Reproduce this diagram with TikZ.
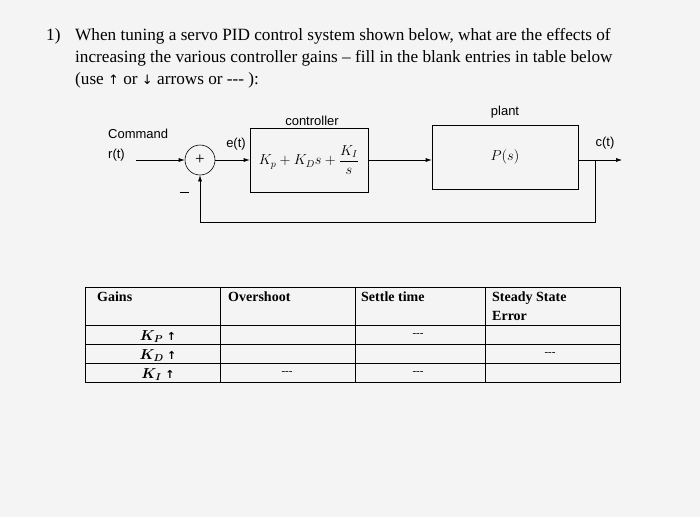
\documentclass[tikz,border=0pt]{standalone}
\usepackage{amsmath}
\usepackage{fontspec}
\setmainfont{Liberation Serif}
\newfontfamily\labfont{Liberation Sans}
\newfontfamily\symfont{DejaVu Sans}
\usetikzlibrary{arrows.meta}
\begin{document}
\begin{tikzpicture}[x=1pt,y=-1pt,
  lab/.style={font=\labfont\fontsize{13}{13}\selectfont,inner sep=0pt},
  ttl/.style={font=\fontsize{17.2}{17.2}\selectfont,inner sep=0pt,anchor=base west},
  blk/.style={draw,line width=0.6pt,minimum width=118pt,minimum height=64pt,font=\fontsize{14}{14}\selectfont},
  cell/.style={font=\bfseries\fontsize{14}{14}\selectfont,inner sep=0pt,anchor=base west},
  dsh/.style={font=\fontsize{11}{11}\selectfont,inner sep=0pt},
  arr/.style={-{Latex[length=6pt,width=4pt]},line width=0.6pt}]
\fill[gray!9] (0,0) rectangle (700,517);
\useasboundingbox (0,0) rectangle (700,517);
% title
\node[ttl] (n1) at (46,40) {1)};
\node[ttl] (t1) at (75,40) {When tuning a servo PID control system shown below, what are the effects of};
\node[ttl] (t2) at (75,62) {increasing the various controller gains -- fill in the blank entries in table below};
\node[ttl] (t3) at (75,84) {(use {\symfont\fontsize{13}{13}\selectfont↑} or {\symfont\fontsize{13}{13}\selectfont↓} arrows or -{}-{}- ):};
% block diagram
\node[lab,anchor=west] (cmd) at (108,134) {Command};
\node[lab,anchor=west] (rt) at (108,155) {r(t)};
\coordinate (in) at (136,160);
\node[draw,circle,minimum size=30pt,inner sep=0pt,line width=0.6pt,font=\fontsize{17}{17}\selectfont] (sum) at (200,160) {+};
\node[lab] (et) at (236,144) {e(t)};
\node[blk] (ctl) at (309,160) {$K_p + K_D s + \dfrac{K_I}{s}$};
\node[lab] (ctll) at (312,121) {controller};
\node[blk,minimum width=146pt,minimum height=64pt] (pl) at (505,157) {$P(s)$};
\node[lab] (pll) at (505,112) {plant};
\node[lab] (ct) at (605,143) {c(t)};
\coordinate (out) at (622,160);
\coordinate (tap) at (595,160);
\coordinate (fb1) at (595,222);
\coordinate (fb2) at (200,222);
\node[inner sep=0pt] (minus) at (184,192) {\rule{9pt}{0.7pt}};
\draw[arr] (in) -- (sum.west);
\draw[arr] (sum.east) -- (ctl.west);
\draw[arr] (ctl.east) -- (pl.west |- ctl.east);
\draw[arr] (pl.east |- tap) -- (out);
\draw[arr] (tap) -- (fb1) -- (fb2) -- (sum.south);
% table
\draw[line width=0.5pt] (85,287) rectangle (620,382);
\foreach \x in {220,355,485} \draw[line width=0.5pt] (\x,287) -- (\x,382);
\foreach \y in {325,344,363} \draw[line width=0.5pt] (85,\y) -- (620,\y);
\node[cell] (g) at (97,301) {Gains};
\node[cell] (o) at (228,301) {Overshoot};
\node[cell] (s) at (361,301) {Settle time};
\node[cell] (e1) at (492,301) {Steady State};
\node[cell] (e2) at (492,320) {Error};
\node[cell,anchor=base] (kp) at (158,340) {$\boldsymbol{K_P}$ {\symfont\fontsize{11}{11}\selectfont↑}};
\node[cell,anchor=base] (kd) at (158,359) {$\boldsymbol{K_D}$ {\symfont\fontsize{11}{11}\selectfont↑}};
\node[cell,anchor=base] (ki) at (158,378) {$\boldsymbol{K_I}$ {\symfont\fontsize{11}{11}\selectfont↑}};
\node[dsh] (d1) at (418,335) {-{}-{}-};
\node[dsh] (d2) at (550,354) {-{}-{}-};
\node[dsh] (d3) at (287,373) {-{}-{}-};
\node[dsh] (d4) at (418,373) {-{}-{}-};
\end{tikzpicture}
\end{document}
